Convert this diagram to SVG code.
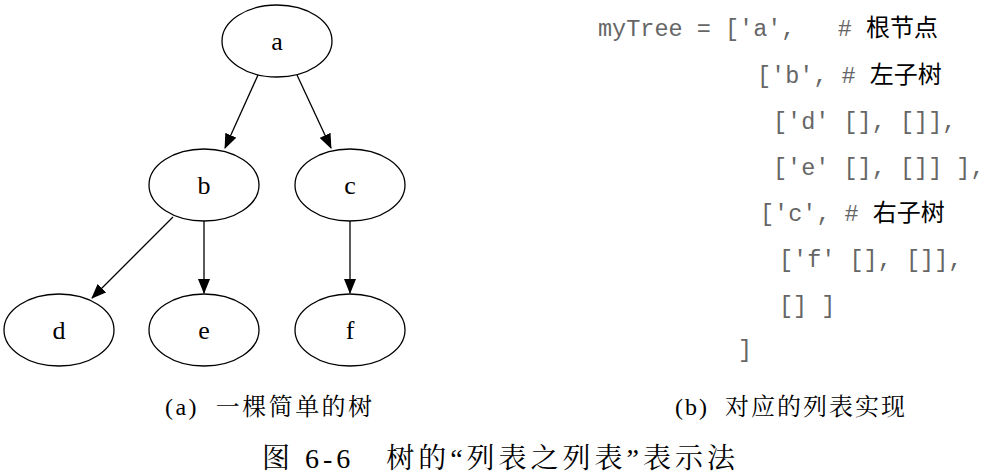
<svg xmlns="http://www.w3.org/2000/svg" width="995" height="476" viewBox="0 0 995 476">
<style>
.n ellipse{fill:#fff;stroke:#000;stroke-width:1.3}
.n text{font-family:"Liberation Serif","Noto Sans CJK SC",serif;font-size:26px;text-anchor:middle}
.e line{stroke:#000;stroke-width:1.3}
.code{font-family:"Liberation Mono",monospace;font-size:23.5px;fill:#666}
.cjk{font-family:"Noto Sans CJK SC",sans-serif;font-size:24px;fill:#000}
.cap{font-family:"Liberation Serif","Noto Serif CJK SC","Noto Sans CJK SC",serif;font-size:24px;fill:#000}
</style>
<defs><marker id="ar" markerWidth="15" markerHeight="12" refX="14" refY="6" orient="auto" markerUnits="userSpaceOnUse"><path d="M0,0 L15,6 L0,12 z" fill="#000"/></marker></defs>
<rect width="995" height="476" fill="#fff"/>
<g id="connectors" class="e">
<line x1="258" y1="75" x2="225" y2="148" marker-end="url(#ar)"/>
<line x1="297" y1="75" x2="331" y2="148" marker-end="url(#ar)"/>
<line x1="173" y1="217" x2="92" y2="298" marker-end="url(#ar)"/>
<line x1="204" y1="221" x2="204" y2="293" marker-end="url(#ar)"/>
<line x1="350" y1="221" x2="350" y2="293" marker-end="url(#ar)"/>
</g>
<g id="a" class="n"><ellipse cx="277" cy="41" rx="55" ry="36"/><text x="277" y="50">a</text></g>
<g id="b" class="n"><ellipse cx="204" cy="185" rx="55" ry="36"/><text x="204" y="194">b</text></g>
<g id="c" class="n"><ellipse cx="350" cy="185" rx="55" ry="36"/><text x="350" y="194">c</text></g>
<g id="d" class="n"><ellipse cx="59" cy="330" rx="55" ry="36"/><text x="59" y="339">d</text></g>
<g id="e" class="n"><ellipse cx="204" cy="330" rx="55" ry="36"/><text x="204" y="339">e</text></g>
<g id="f" class="n"><ellipse cx="350" cy="330" rx="55" ry="36"/><text x="350" y="339">f</text></g>
<g id="code">
<text class="code" x="598" y="36" xml:space="preserve">myTree = ['a',   # <tspan class="cjk">根节点</tspan></text>
<text class="code" x="757" y="83" xml:space="preserve">['b', # <tspan class="cjk">左子树</tspan></text>
<text class="code" x="773" y="129" xml:space="preserve">['d' [], []],</text>
<text class="code" x="773" y="175" xml:space="preserve">['e' [], []] ],</text>
<text class="code" x="760" y="221" xml:space="preserve">['c', # <tspan class="cjk">右子树</tspan></text>
<text class="code" x="779" y="267" xml:space="preserve">['f' [], []],</text>
<text class="code" x="779" y="313" xml:space="preserve">[] ]</text>
<text class="code" x="738" y="357">]</text>
</g>
<text class="cap" x="165" y="415" textLength="207" xml:space="preserve">(a)  一棵简单的树</text>
<text class="cap" x="675" y="415" textLength="230" xml:space="preserve">(b)  对应的列表实现</text>
<text class="cap" x="262" y="468" textLength="473" style="font-size:28px" xml:space="preserve">图 6-6　树的“列表之列表”表示法</text>
</svg>
